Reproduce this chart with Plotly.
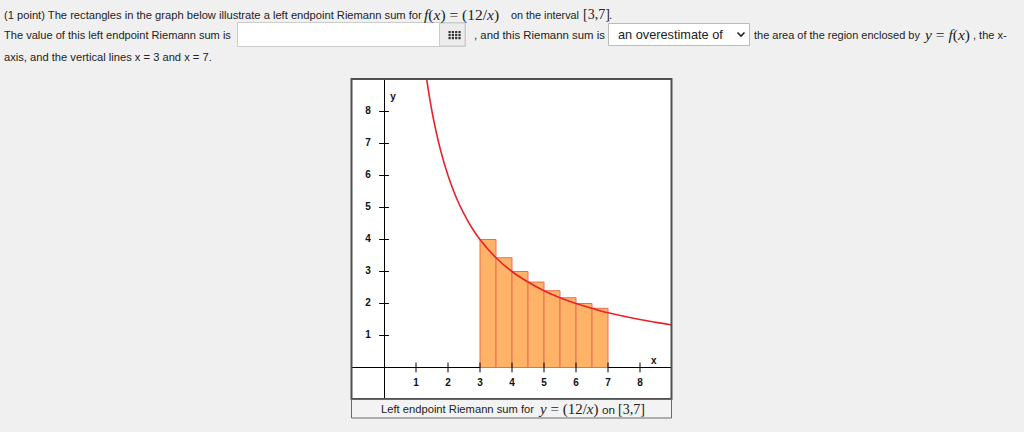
import plotly.graph_objects as go

# ---------------- data ----------------
rect_left = [3.0, 3.5, 4.0, 4.5, 5.0, 5.5, 6.0, 6.5]
rect_height = [4.0, 3.43, 3.0, 2.67, 2.4, 2.18, 2.0, 1.85]
rect_width = 0.5

curve_x = [1.3, 1.5, 1.75, 2.0, 2.25, 2.5, 2.75, 3.0, 3.5, 4.0, 4.5, 5.0,
           5.5, 6.0, 6.5, 7.0, 7.5, 8.0, 8.5, 9.0]
curve_y = [9.23, 8.0, 6.86, 6.0, 5.33, 4.8, 4.36, 4.0, 3.43, 3.0, 2.67, 2.4,
           2.18, 2.0, 1.85, 1.71, 1.6, 1.5, 1.41, 1.33]

x_ticks = [1, 2, 3, 4, 5, 6, 7, 8]
x_tick_labels = ["1", "2", "3", "4", "5", "6", "7", "8"]
y_ticks = [1, 2, 3, 4, 5, 6, 7, 8]
y_tick_labels = ["1", "2", "3", "4", "5", "6", "7", "8"]

W, H = 1024, 432


def px(x):
    return x / W


def py(y):
    return 1 - y / H


PAGE_BG = "#f0f0f0"
TXT = "#222222"
SANS = "Arial, Liberation Sans, sans-serif"
SERIF = "Liberation Serif"

# Arial advance widths (units of 1/2048 em) for fitting text segments
AW = {" ": 569, "(": 682, ")": 682, "1": 1139, "3": 1139, "7": 1139, ".": 569, ",": 569,
      "=": 1196, "-": 682, "a": 1139, "b": 1139, "c": 1024, "d": 1139, "e": 1139, "f": 569,
      "g": 1139, "h": 1139, "i": 455, "k": 1024, "l": 455, "m": 1706, "n": 1139, "o": 1139,
      "p": 1139, "r": 682, "s": 1024, "t": 569, "u": 1139, "v": 1024, "w": 1479, "x": 1024,
      "y": 1024, "z": 1024, "T": 1251, "R": 1479, "L": 1139}


def fit_size(s, width, lo=10.8, hi=13.0):
    units = sum(AW.get(ch, 1139) for ch in s)
    v = width / (units / 2048.0)
    return round(min(hi, max(lo, v)), 2)


def m(s, italic=False, size=15.5):
    st = "font-family:%s;font-size:%spx" % (SERIF, size)
    if italic:
        st += ";font-style:italic"
    return '<span style="%s">%s</span>' % (st, s)


def fx_eq(size):
    return (m("f", True, size) + m("(", size=size) + m("x", True, size) + m(")", size=size))


fig = go.Figure()

fig.add_trace(go.Bar(
    x=rect_left, y=rect_height, width=rect_width, offset=0,
    marker=dict(color="#ffb366", line=dict(color="#e8704a", width=1)),
    showlegend=False,
))

fig.add_trace(go.Scatter(
    x=curve_x, y=curve_y, mode="lines", line=dict(color="#e8232b", width=1.6, shape="spline"),
    showlegend=False,
))

# tick marks
fig.add_trace(go.Scatter(
    x=x_ticks, y=[0] * len(x_ticks), mode="markers",
    marker=dict(symbol="line-ns", size=7, line=dict(width=1, color="black")),
    showlegend=False,
))
fig.add_trace(go.Scatter(
    x=[0] * len(y_ticks), y=y_ticks, mode="markers",
    marker=dict(symbol="line-ew", size=7, line=dict(width=1, color="black")),
    showlegend=False,
))
# tick labels
fig.add_trace(go.Scatter(
    x=x_ticks, y=[-0.5] * len(x_ticks), mode="text", text=x_tick_labels,
    textfont=dict(family=SANS, size=10, color="#111111", weight="bold"),
    showlegend=False,
))
fig.add_trace(go.Scatter(
    x=[-0.5] * len(y_ticks), y=y_ticks, mode="text", text=y_tick_labels,
    textfont=dict(family=SANS, size=10, color="#111111", weight="bold"),
    showlegend=False,
))
# axis names
fig.add_trace(go.Scatter(
    x=[0.28, 8.43], y=[8.45, 0.2], mode="text", text=["y", "x"],
    textfont=dict(family=SANS, size=10, color="#111111", weight="bold"),
    showlegend=False,
))

axis_common = dict(range=[-1, 9], showgrid=False, zeroline=True, zerolinecolor="black",
                   zerolinewidth=1, showticklabels=False, ticks="", showline=False, fixedrange=True)

fig.update_layout(
    width=W, height=H, margin=dict(l=0, r=0, t=0, b=0),
    paper_bgcolor=PAGE_BG, plot_bgcolor="white",
    hovermode=False,
    xaxis=dict(domain=[px(352), px(672)], **axis_common),
    yaxis=dict(domain=[py(399.5), py(79.5)], **axis_common),
)

shapes = []
# plot frame
shapes.append(dict(type="rect", xref="paper", yref="paper",
                   x0=px(351.5), x1=px(671.5), y0=py(399), y1=py(79),
                   line=dict(color="#505050", width=2), fillcolor="rgba(0,0,0,0)", layer="above"))
# caption box
shapes.append(dict(type="rect", xref="paper", yref="paper",
                   x0=px(351.5), x1=px(671.5), y0=py(418), y1=py(399.5),
                   line=dict(color="#6a6a6a", width=1), fillcolor="#f3f3f3"))
# input box
shapes.append(dict(type="rect", xref="paper", yref="paper",
                   x0=px(237.5), x1=px(465.5), y0=py(46.5), y1=py(22.5),
                   line=dict(color="#cccccc", width=1), fillcolor="white"))
shapes.append(dict(type="rect", xref="paper", yref="paper",
                   x0=px(439.5), x1=px(465), y0=py(46), y1=py(23),
                   line=dict(color="#cccccc", width=1), fillcolor="#ececec"))
# grid icon on button
for r in range(3):
    for c in range(4):
        x0 = 448.5 + c * 3.3
        y0 = 31 + r * 3
        shapes.append(dict(type="rect", xref="paper", yref="paper",
                           x0=px(x0), x1=px(x0 + 2.2), y0=py(y0 + 2.2), y1=py(y0),
                           line=dict(width=0), fillcolor="#333333"))
# select box
shapes.append(dict(type="rect", xref="paper", yref="paper",
                   x0=px(608.5), x1=px(749.5), y0=py(45.5), y1=py(23.5),
                   line=dict(color="#bbbbbb", width=1), fillcolor="white"))
shapes.append(dict(type="path", xref="paper", yref="paper",
                   path="M %f %f L %f %f L %f %f" % (px(737.5), py(32.5), px(741), py(36), px(744.5), py(32.5)),
                   line=dict(color="#222222", width=1.6)))
fig.update_layout(shapes=shapes)

ann = []


def text_at(x, y, s, size=11.2, anchor="left", color=TXT, family=SANS):
    ann.append(dict(xref="paper", yref="paper", x=px(x), y=py(y), text=s, showarrow=False,
                    xanchor=anchor, yanchor="middle", borderpad=0,
                    font=dict(family=family, size=size, color=color)))


def seg(x0, x1, y, s):
    text_at(x0, y, s, size=fit_size(s, x1 - x0))


# line 1
seg(3, 421, 15, "(1 point) The rectangles in the graph below illustrate a left endpoint Riemann sum for")
text_at(423, 15, fx_eq(15.5) + m(" = ") + m("(12/") + m("x", True) + m(")"))
seg(510, 578, 15, "on the interval")
text_at(582, 15, m("[3,7]", size=14))
text_at(608, 15, ".", size=11.2)
# line 2
seg(3, 230, 35, "The value of this left endpoint Riemann sum is")
seg(473, 604, 35, ", and this Riemann sum is")
seg(617, 722, 35, "an overestimate of")
seg(753, 919, 35, "the area of the region enclosed by")
text_at(922, 35, m("y", True) + m(" = ") + fx_eq(15.5))
text_at(972, 35, ", the x-", size=11)
# line 3
seg(3, 211, 57, "axis, and the vertical lines x = 3 and x = 7.")
# caption
seg(380, 533, 409, "Left endpoint Riemann sum for")
text_at(537, 409, m("y", True, 15) + m(" = ", size=15) + m("(12/", size=15)
        + m("x", True, 15) + m(")", size=15))
seg(601, 614, 409, "on")
text_at(617, 409, m("[3,7]", size=14))

fig.update_layout(annotations=ann)

fig.write_html("out.html")
